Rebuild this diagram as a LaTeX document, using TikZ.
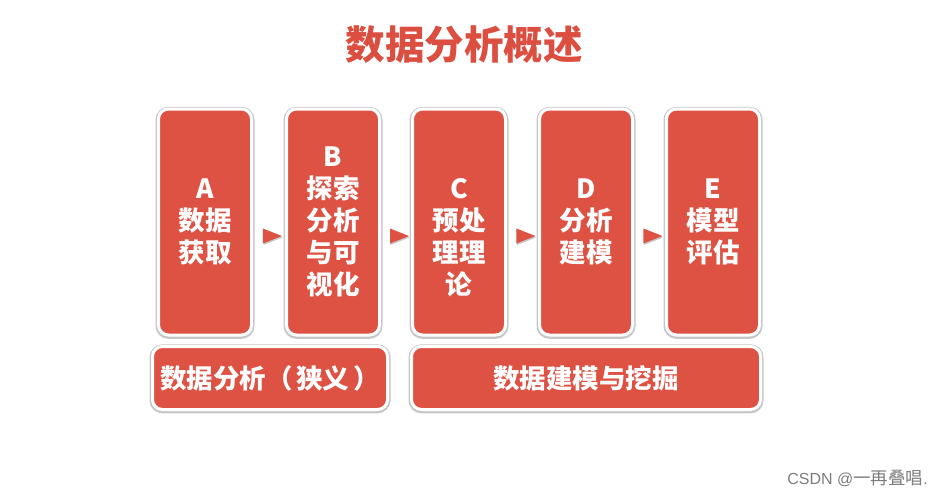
\documentclass[tikz,border=0pt]{standalone}
\usepackage{fontspec}
\setmainfont{Noto Sans CJK SC}
\newfontfamily\latinsans{Liberation Sans}
\usepackage{tikz}
\usetikzlibrary{positioning, calc, shadows, shapes.geometric}
\definecolor{cRed}{RGB}{222,82,68}
\definecolor{cTitle}{RGB}{220,78,64}
\definecolor{cGray}{RGB}{125,125,125}
\tikzset{
  stage/.style={rectangle, rounded corners=10pt, draw=white, fill=cRed,
                line width=3pt, inner sep=0pt,
                preaction={draw=black!22, line width=6pt, transform canvas={yshift=-0.8pt}}},
  stageV/.style={stage, minimum width=93pt, minimum height=226pt},
  stageH/.style={stage, minimum height=63pt},
  stagetext/.style={text=white, font=\bfseries\fontsize{26.5}{32}\selectfont, align=center, inner sep=0pt},
  steparrow/.style={isosceles triangle, isosceles triangle stretches, fill=cRed,
                    minimum width=15pt, minimum height=19pt, inner sep=0pt,
                    drop shadow={shadow xshift=0.6pt, shadow yshift=-1.5pt, fill=black!35, opacity=0.6}},
}

\begin{document}
\begin{tikzpicture}[x=1pt, y=-1pt]

%% ============================================================
%%  CANVAS
%% ============================================================
\fill[white] (0,0) rectangle (941,496);
\useasboundingbox (0,0) rectangle (941,496);

%% ----- Title -----
\node[text=cTitle, font=\bfseries\fontsize{39.5}{42}\selectfont] (title) at (464, 45) {数据分析概述};

%% ============================================================
%%  STAGE BOXES  (A ... E)
%% ============================================================
\def\ys{222}
\node[stageV] (A) at (205, \ys) {};
\node[stageV] (B) at (333, \ys) {};
\node[stageV] (C) at (459, \ys) {};
\node[stageV] (D) at (586, \ys) {};
\node[stageV] (E) at (713, \ys) {};

\node[stagetext] (tA) at (A.center) {A\\数据\\获取};
\node[stagetext] (tB) at (B.center) {B\\探索\\分析\\与可\\视化};
\node[stagetext] (tC) at ($(C.center)+(0,16)$) {C\\预处\\理理\\论};
\node[stagetext] (tD) at (D.center) {D\\分析\\建模};
\node[stagetext] (tE) at (E.center) {E\\模型\\评估};

%% ----- Arrow heads between stages -----
\node[steparrow] (arrAB) at ($(A.east)!0.47!(B.west)+(0,14)$) {};
\node[steparrow] (arrBC) at ($(B.east)!0.47!(C.west)+(0,14)$) {};
\node[steparrow] (arrCD) at ($(C.east)!0.47!(D.west)+(0,14)$) {};
\node[steparrow] (arrDE) at ($(D.east)!0.47!(E.west)+(0,14)$) {};

%% ============================================================
%%  GROUP BARS
%% ============================================================
\node[stageH, minimum width=235pt] (narrow) at (270, 378) {};
\node[stageH, minimum width=349pt] (mining) at (586, 378) {};
\node[stagetext] (tNarrow) at (narrow.center) {数据分析（\hspace{4pt}狭义\hspace{4pt}）};
\node[stagetext] (tMining) at (mining.center) {数据建模与挖掘};

%% ----- Watermark -----
\node[text=cGray, font=\fontsize{17.5}{19}\selectfont, anchor=east, inner sep=0pt] (mark) at (928, 478)
  {{\latinsans\fontsize{16}{18}\selectfont CSDN @}一再叠唱{\latinsans\fontsize{16}{18}\selectfont .}};

\end{tikzpicture}
\end{document}
